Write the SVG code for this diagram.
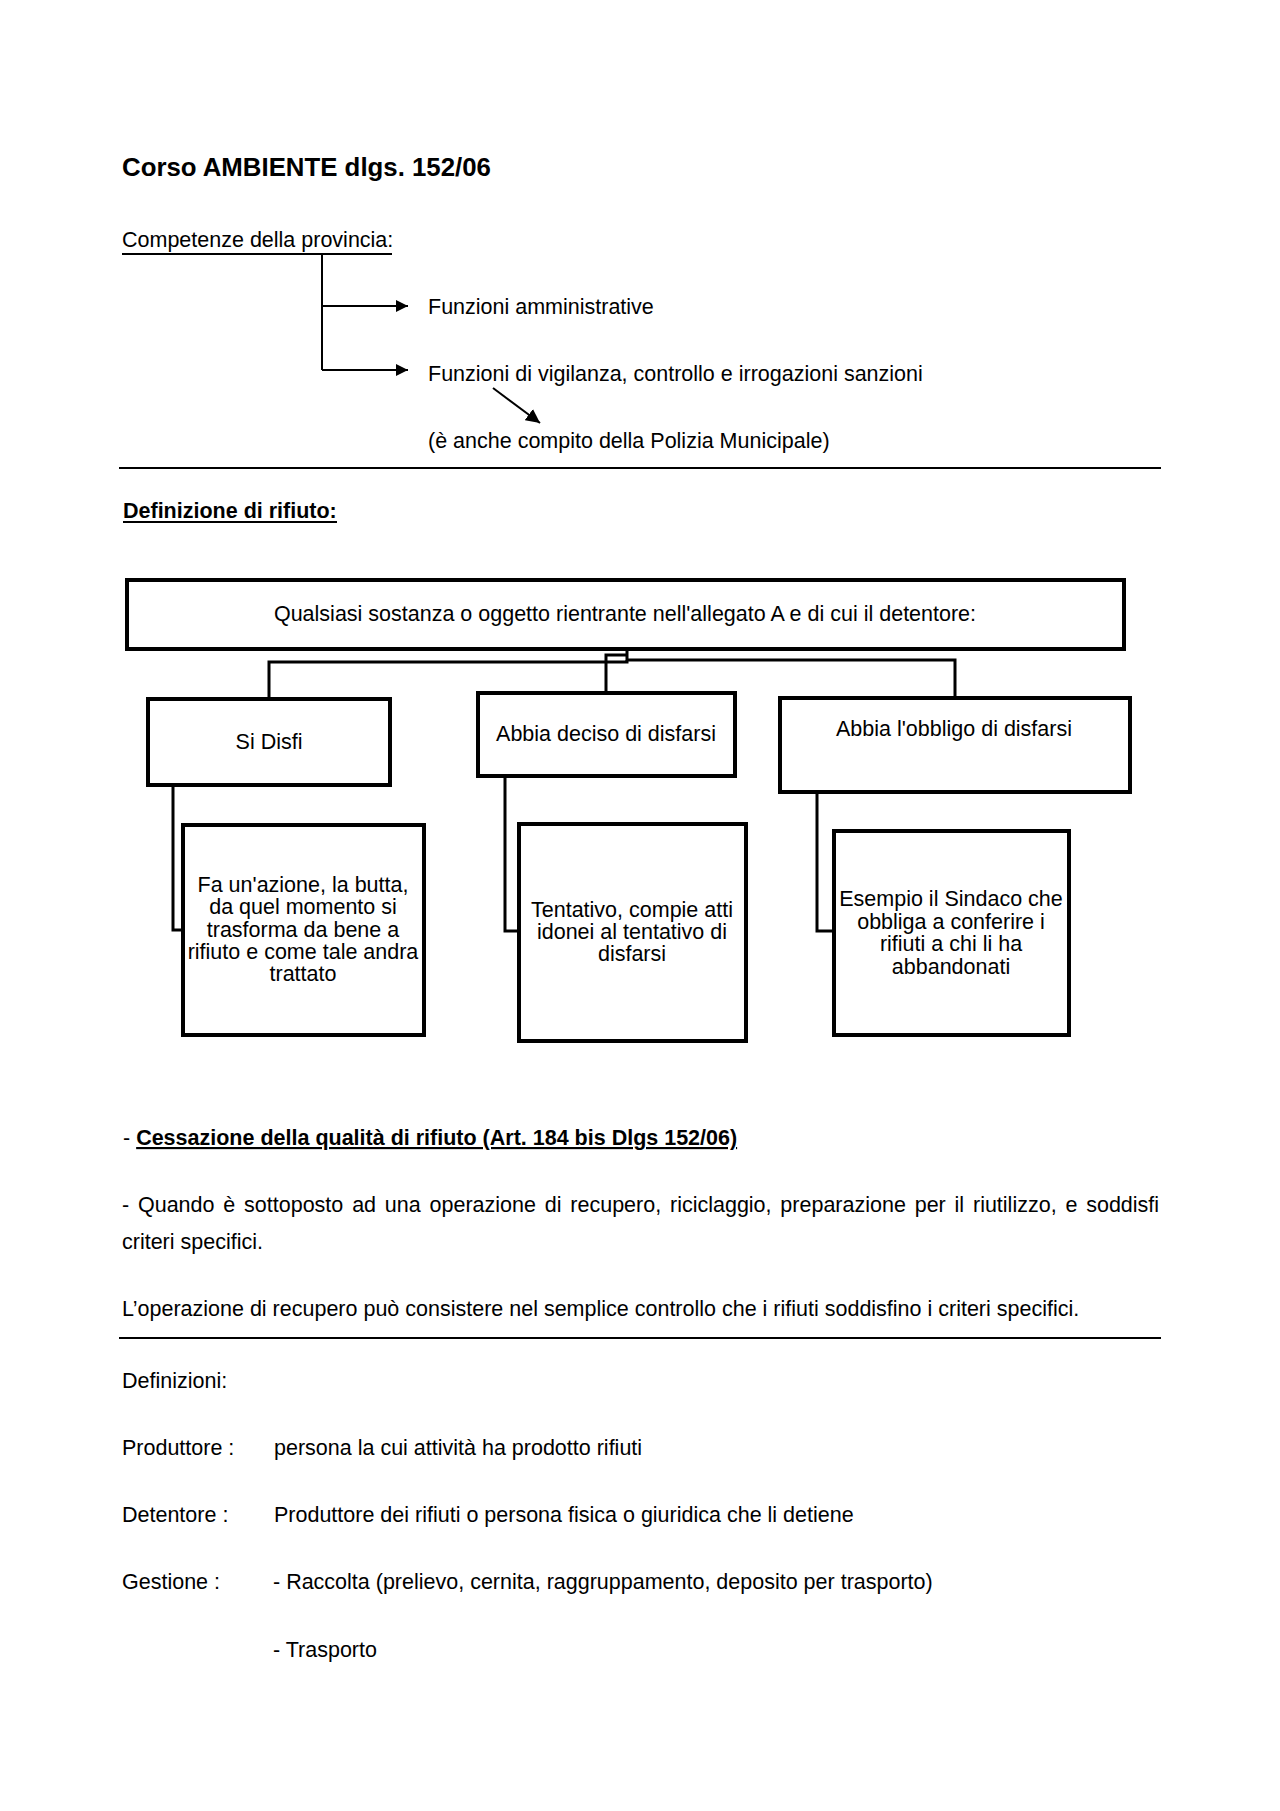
<svg xmlns="http://www.w3.org/2000/svg" width="1280" height="1811" viewBox="0 0 1280 1811">
<defs>
<style>
text{font-family:"Liberation Sans",Arial,sans-serif;font-size:21.5px;fill:#000}
.title{font-size:25.8px;font-weight:bold}
.b{font-weight:bold}
.c{text-anchor:middle}
.box{fill:#fff;stroke:#000;stroke-width:4}
.con{fill:none;stroke:#000;stroke-width:3}
.thin{fill:none;stroke:#000;stroke-width:2}
.rule{stroke:#000;stroke-width:2}
</style>
<marker id="ah" markerWidth="12" markerHeight="12" refX="12" refY="6" orient="auto" markerUnits="userSpaceOnUse">
<path d="M0,0 L12,6 L0,12 Z" fill="#000"/>
</marker>
<marker id="ah2" markerWidth="14" markerHeight="14" refX="14" refY="7" orient="auto" markerUnits="userSpaceOnUse">
<path d="M0,0 L14,7 L0,14 Z" fill="#000"/>
</marker>
</defs>
<rect width="1280" height="1811" fill="#fff"/>

<g id="header">
<text class="title" x="122" y="176">Corso AMBIENTE dlgs. 152/06</text>
<text x="122" y="247">Competenze della provincia:</text>
<line class="rule" x1="122" y1="254" x2="392" y2="254"/>
</g>

<g id="connectors-top">
<path class="thin" d="M322,254 V370"/>
<path class="thin" d="M322,306 H408" marker-end="url(#ah)"/>
<path class="thin" d="M322,370 H408" marker-end="url(#ah)"/>
<path class="thin" d="M493,388 L540,423" marker-end="url(#ah2)"/>
</g>

<g id="node-funzioni-amm"><text x="428" y="314">Funzioni amministrative</text></g>
<g id="node-funzioni-vig"><text x="428" y="381">Funzioni di vigilanza, controllo e irrogazioni sanzioni</text></g>
<g id="node-polizia"><text x="428" y="448">(è anche compito della Polizia Municipale)</text></g>

<line class="rule" x1="119" y1="468" x2="1161" y2="468"/>

<g id="section-def">
<text class="b" x="123" y="518">Definizione di rifiuto:</text>
<line class="rule" x1="123" y1="522" x2="337" y2="522"/>
</g>

<g id="connectors">
<path class="con" d="M627,650 V660 H955 V698"/>
<path class="con" d="M627,660 V662 H269 V699"/>
<path class="con" d="M627,655 H606 V693"/>
<path class="con" d="M173,785 V930 H183"/>
<path class="con" d="M505,776 V931 H519"/>
<path class="con" d="M817,792 V931 H834"/>
</g>

<g id="node-root">
<rect class="box" x="127" y="580" width="997" height="69"/>
<text class="c" x="625" y="621">Qualsiasi sostanza o oggetto rientrante nell'allegato A e di cui il detentore:</text>
</g>

<g id="node-si-disfi">
<rect class="box" x="148" y="699" width="242" height="86"/>
<text class="c" x="269" y="749">Si Disfi</text>
</g>

<g id="node-deciso">
<rect class="box" x="478" y="693" width="257" height="83"/>
<text class="c" x="606" y="741">Abbia deciso di disfarsi</text>
</g>

<g id="node-obbligo">
<rect class="box" x="780" y="698" width="350" height="94"/>
<text class="c" x="954" y="736">Abbia l'obbligo di disfarsi</text>
</g>

<g id="node-azione">
<rect class="box" x="183" y="825" width="241" height="210"/>
<text class="c" x="303" y="892">Fa un'azione, la butta,</text>
<text class="c" x="303" y="914">da quel momento si</text>
<text class="c" x="303" y="937">trasforma da bene a</text>
<text class="c" x="303" y="959">rifiuto e come tale andra</text>
<text class="c" x="303" y="981">trattato</text>
</g>

<g id="node-tentativo">
<rect class="box" x="519" y="824" width="227" height="217"/>
<text class="c" x="632" y="917">Tentativo, compie atti</text>
<text class="c" x="632" y="939">idonei al tentativo di</text>
<text class="c" x="632" y="961">disfarsi</text>
</g>

<g id="node-sindaco">
<rect class="box" x="834" y="831" width="235" height="204"/>
<text class="c" x="951" y="906">Esempio il Sindaco che</text>
<text class="c" x="951" y="929">obbliga a conferire i</text>
<text class="c" x="951" y="951">rifiuti a chi li ha</text>
<text class="c" x="951" y="974">abbandonati</text>
</g>

<g id="section-cessazione">
<text x="123" y="1145">- <tspan class="b" text-decoration="underline">Cessazione della qualità di rifiuto (Art. 184 bis Dlgs 152/06)</tspan></text>
<text x="122" y="1212" word-spacing="2.85">- Quando è sottoposto ad una operazione di recupero, riciclaggio, preparazione per il riutilizzo, e soddisfi</text>
<text x="122" y="1249">criteri specifici.</text>
<text x="122" y="1316">L’operazione di recupero può consistere nel semplice controllo che i rifiuti soddisfino i criteri specifici.</text>
</g>

<line class="rule" x1="119" y1="1338" x2="1161" y2="1338"/>

<g id="section-definizioni">
<text x="122" y="1388">Definizioni:</text>
<text x="122" y="1455">Produttore :</text>
<text x="274" y="1455">persona la cui attività ha prodotto rifiuti</text>
<text x="122" y="1522">Detentore :</text>
<text x="274" y="1522">Produttore dei rifiuti o persona fisica o giuridica che li detiene</text>
<text x="122" y="1589">Gestione :</text>
<text x="273" y="1589">- Raccolta (prelievo, cernita, raggruppamento, deposito per trasporto)</text>
<text x="273" y="1657">- Trasporto</text>
</g>
</svg>
